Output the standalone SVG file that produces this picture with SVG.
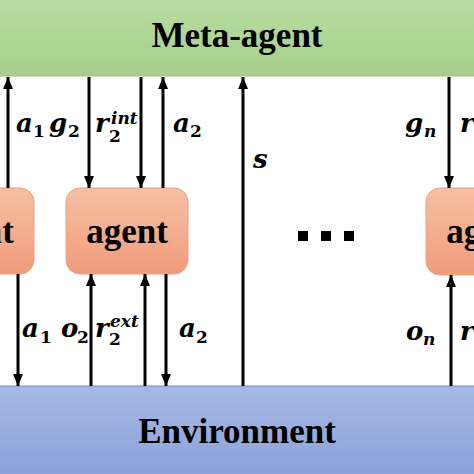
<svg xmlns="http://www.w3.org/2000/svg" width="474" height="474" viewBox="0 0 474 474">
<defs>
<linearGradient id="gGreen" x1="0" y1="0" x2="0" y2="1"><stop offset="0" stop-color="#b9dca2"/><stop offset="1" stop-color="#a5cf8a"/></linearGradient>
<linearGradient id="gBlue" x1="0" y1="0" x2="0" y2="1"><stop offset="0" stop-color="#a8b8e3"/><stop offset="1" stop-color="#8ba2da"/></linearGradient>
<linearGradient id="gOrange" x1="0" y1="0" x2="0" y2="1"><stop offset="0" stop-color="#f7c0a4"/><stop offset="1" stop-color="#f09c7b"/></linearGradient>
<marker id="ah" viewBox="0 0 12 10" refX="12" refY="5" markerWidth="12" markerHeight="10" markerUnits="userSpaceOnUse" orient="auto"><path d="M0,0 L12,5 L0,10 z" fill="#000"/></marker>
</defs>
<style>
.title{font-family:"Liberation Serif","Times New Roman",serif;font-weight:bold;font-size:35px;fill:#000;text-anchor:middle}
.agent{fill:url(#gOrange);stroke:#e8a183;stroke-width:1}
.arr{stroke:#000;stroke-width:3;fill:none;marker-end:url(#ah)}
.m{font-family:"DejaVu Serif",serif;font-weight:bold;font-style:italic;font-size:26px;fill:#000}
.sub{font-style:normal;font-size:17px}
.subi{font-style:italic;font-size:17px}
.sup{font-size:17px}
</style>
<rect width="474" height="474" fill="#fff"/>
<g id="meta-agent">
<rect x="0" y="0" width="474" height="76" fill="url(#gGreen)"/>
<line x1="0" y1="76" x2="474" y2="76" stroke="#9cc482" stroke-width="1"/>
<text class="title" x="237" y="47">Meta-agent</text>
</g>
<g id="environment">
<rect x="0" y="386" width="474" height="88" fill="url(#gBlue)"/>
<line x1="0" y1="386" x2="474" y2="386" stroke="#6f8ed2" stroke-width="1"/>
<text class="title" x="237" y="443">Environment</text>
</g>
<g id="agent1">
<rect class="agent" x="-88" y="188" width="122" height="86" rx="14"/>
<text class="title" x="-27" y="243">agent</text>
</g>
<g id="agent2">
<rect class="agent" x="66" y="188" width="122" height="86" rx="14"/>
<text class="title" x="127" y="243">agent</text>
</g>
<g id="agentn">
<rect class="agent" x="426" y="188" width="122" height="87" rx="14"/>
<text class="title" x="487" y="243">agent</text>
</g>
<g id="ellipsis" fill="#000">
<rect x="298" y="231" width="10" height="10"/>
<rect x="321" y="231" width="10" height="10"/>
<rect x="344" y="231" width="10" height="10"/>
</g>
<g id="connectors">
<line class="arr" x1="8" y1="188" x2="8" y2="77"/>
<line class="arr" x1="89" y1="77" x2="89" y2="188"/>
<line class="arr" x1="141" y1="77" x2="141" y2="188"/>
<line class="arr" x1="163" y1="188" x2="163" y2="77"/>
<line class="arr" x1="18" y1="274" x2="18" y2="386"/>
<line class="arr" x1="91" y1="386" x2="91" y2="274"/>
<line class="arr" x1="145" y1="386" x2="145" y2="274"/>
<line class="arr" x1="166" y1="274" x2="166" y2="386"/>
<line class="arr" x1="243" y1="386" x2="243" y2="77"/>
<line class="arr" x1="449" y1="77" x2="449" y2="188"/>
<line class="arr" x1="451" y1="386" x2="451" y2="275"/>
</g>
<g id="labels">
<text class="m" x="16" y="132">a<tspan class="sub" x="33" y="137">1</tspan></text>
<text class="m" x="49" y="132">g<tspan class="sub" x="68" y="137">2</tspan></text>
<text class="m" x="95" y="132">r<tspan class="sub" x="109" y="142">2</tspan><tspan class="sup" x="111" y="124">int</tspan></text>
<text class="m" x="173" y="132">a<tspan class="sub" x="190" y="137">2</tspan></text>
<text class="m" x="253" y="168">s</text>
<text class="m" x="405" y="132">g<tspan class="subi" x="424" y="137">n</tspan></text>
<text class="m" x="460" y="132">r</text>
<text class="m" x="22" y="337">a<tspan class="sub" x="40" y="343">1</tspan></text>
<text class="m" x="61" y="337">o<tspan class="sub" x="77" y="343">2</tspan></text>
<text class="m" x="95" y="337">r<tspan class="sub" x="109" y="345">2</tspan><tspan class="sup" x="110" y="327">ext</tspan></text>
<text class="m" x="179" y="337">a<tspan class="sub" x="196" y="343">2</tspan></text>
<text class="m" x="406" y="340">o<tspan class="subi" x="423" y="345">n</tspan></text>
<text class="m" x="460" y="340">r</text>
</g>
</svg>
